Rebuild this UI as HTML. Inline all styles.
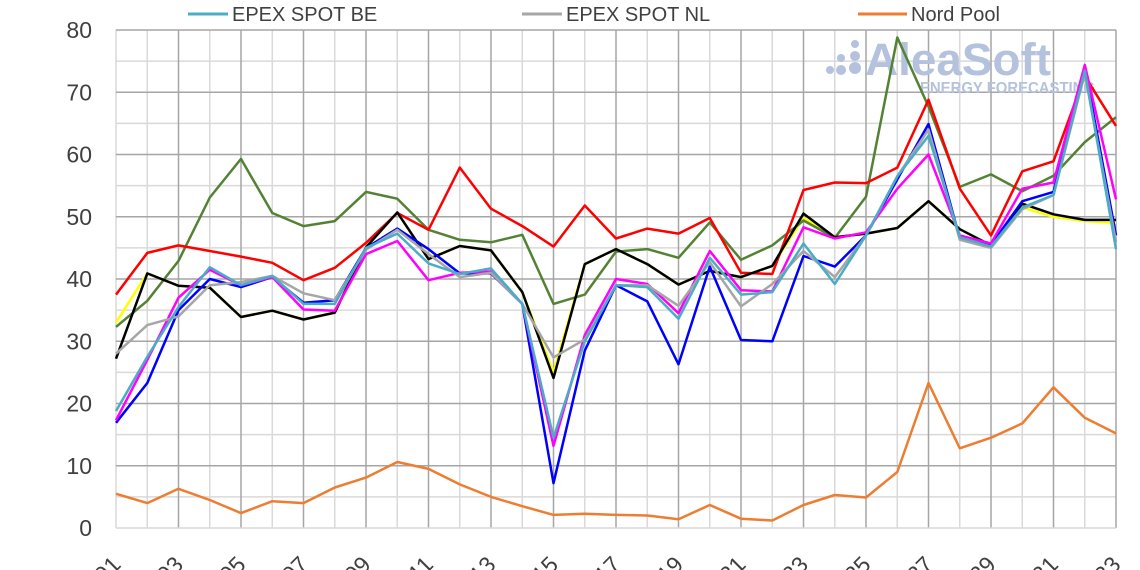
<!DOCTYPE html>
<html><head><meta charset="utf-8"><style>
html,body{margin:0;padding:0;background:#fff;}
svg{display:block;font-family:"Liberation Sans",sans-serif;}
</style></head><body>
<svg id="s" width="1140" height="570" viewBox="0 0 1140 570" xmlns="http://www.w3.org/2000/svg">
<rect width="1140" height="570" fill="#fff"/>
<g id="grid"></g>
<g id="wm" font-weight="bold" fill="#b4c2de">
<circle cx="830" cy="70" r="4"/><circle cx="841" cy="70" r="5"/><circle cx="855" cy="68" r="6"/>
<circle cx="841" cy="58" r="4"/><circle cx="855" cy="56" r="5"/><circle cx="855" cy="44" r="4"/>
<text x="865" y="75" font-size="45" textLength="186" lengthAdjust="spacingAndGlyphs">AleaSoft</text>
<text x="920" y="93" font-size="16" textLength="175" lengthAdjust="spacingAndGlyphs">ENERGY FORECASTING</text>
</g>
<g id="series"></g>
<g id="labels" fill="#404040"></g>
<g font-size="20" fill="#404040">
<line x1="188" y1="14" x2="228" y2="14" stroke="#4bacc6" stroke-width="3"/>
<text x="232" y="21">EPEX SPOT BE</text>
<line x1="522" y1="14" x2="562" y2="14" stroke="#a6a6a6" stroke-width="3"/>
<text x="566" y="21">EPEX SPOT NL</text>
<line x1="858" y1="14" x2="907" y2="14" stroke="#ed7d31" stroke-width="3"/>
<text x="911" y="21">Nord Pool</text>
</g>
</svg>
<script>
var NS="http://www.w3.org/2000/svg";
function el(p,t,a,txt){var e=document.createElementNS(NS,t);for(var k in a)e.setAttribute(k,a[k]);if(txt!=null)e.textContent=txt;p.appendChild(e);return e;}
var X0=116,DX=31.25,Y0=528,SY=6.225;
function X(i){return X0+DX*i;} function Y(v){return Y0-v*SY;}
var g=document.getElementById('grid');
for(var v=5;v<=80;v+=10){el(g,'line',{x1:X0,x2:X(32),y1:Y(v),y2:Y(v),stroke:'#d9d9d9','stroke-width':1.5});}
for(var i=0;i<33;i++){el(g,'line',{x1:X(i),x2:X(i),y1:Y(80),y2:Y0,stroke:(i%2==0&&i>0)?'#a6a6a6':'#d9d9d9','stroke-width':1.5});}
for(var v=10;v<=80;v+=10){el(g,'line',{x1:X0,x2:X(32),y1:Y(v),y2:Y(v),stroke:'#a6a6a6','stroke-width':1.5});}
el(g,'line',{x1:X0,x2:X(32),y1:Y0,y2:Y0,stroke:'#d9d9d9','stroke-width':1.5});
var L=document.getElementById('labels');
for(var v=0;v<=80;v+=10){el(L,'text',{x:92,y:Y(v)+8,'font-size':23,'text-anchor':'end'},String(v));}
for(var i=0;i<33;i+=2){var w=(i+1<10?'0':'')+(i+1);el(L,'text',{transform:'translate('+(X(i)+6)+',566) rotate(-45)','font-size':23,'text-anchor':'end'},w);}
var S={
orange:['#ed7d31',[5.5,4.0,6.3,4.5,2.4,4.3,4.0,6.5,8.1,10.6,9.5,7.0,5.0,3.5,2.1,2.3,2.1,2.0,1.4,3.7,1.5,1.2,3.7,5.3,4.9,9.0,23.3,12.8,14.5,16.8,22.6,17.7,15.2]],
yellow:['#ffff00',[33,40.9,38.9,38.6,33.9,34.9,33.5,34.6,45.1,50.7,43.2,45.3,44.6,37.9,25,42.4,44.8,42.4,39.1,41.3,40.3,42.1,49.8,46.7,47.3,48.2,52.5,48.0,45.4,51.5,50.0,49.3,49.0]],
green:['#548235',[32.3,36.5,42.9,53.1,59.3,50.6,48.5,49.3,54.0,52.9,47.9,46.3,45.9,47.1,36.0,37.5,44.4,44.8,43.4,49.1,43.1,45.4,49.4,46.6,53.2,78.8,67.7,54.8,56.8,54.1,56.6,62.0,66.0]],
red:['#ff0000',[37.5,44.2,45.4,44.5,43.6,42.6,39.8,41.8,45.8,50.6,47.9,57.9,51.3,48.5,45.2,51.8,46.5,48.1,47.3,49.8,41.0,40.8,54.3,55.5,55.4,57.9,68.8,54.5,47.0,57.3,58.9,72.6,64.6]],
black:['#000000',[27.2,40.9,38.9,38.6,33.9,34.9,33.5,34.6,45.1,50.7,43.2,45.3,44.6,37.9,24.1,42.4,44.8,42.4,39.1,41.3,40.3,42.1,50.5,46.7,47.3,48.2,52.5,48.0,45.4,52.1,50.4,49.5,49.5]],
blue:['#0000ff',[16.9,23.3,35.0,40.0,38.7,40.3,36.2,36.6,45.0,48.1,44.8,40.9,40.9,36.0,7.2,28.5,39.0,36.4,26.3,42.0,30.2,30.0,43.7,42.0,47.0,56.0,64.9,46.5,45.5,52.5,54.0,74.0,47.0]],
magenta:['#ff00ff',[17.3,27.0,37.0,41.5,39.0,40.3,35.1,34.9,44.0,46.1,39.8,41.0,41.2,36.0,13.2,31.0,40.0,39.2,34.5,44.5,38.2,38.0,48.3,46.5,47.5,54.5,60.0,47.0,45.7,54.5,55.5,74.4,52.8]],
teal:['#4bacc6',[18.8,27.5,35.5,41.9,39.0,40.5,36.0,36.0,45.0,47.3,42.5,40.8,41.7,36.0,14.5,30.0,39.0,38.7,33.6,43.4,37.5,37.9,45.7,39.2,47.0,56.5,63.0,46.7,45.2,51.5,53.5,73.5,44.8]],
gray:['#a6a6a6',[28.0,32.6,34.0,39.0,39.5,40.5,37.7,36.6,44.7,47.9,44.0,40.3,41.0,36.0,27.4,30.3,39.0,39.0,35.7,42.7,35.6,39.2,44.5,40.3,47.0,56.5,64.0,46.3,45.0,51.2,53.5,73.0,46.0]]
};
var sg=document.getElementById('series');
['orange','yellow','green','red','black','blue','magenta','gray','teal'].forEach(function(k){
 var c=S[k][0],d=S[k][1],p=d.map(function(v,i){return X(i).toFixed(1)+','+Y(v).toFixed(1);}).join(' ');
 el(sg,'polyline',{points:p,fill:'none',stroke:c,'stroke-width':2.5,'stroke-linejoin':'round'});
});
</script>
</body></html>
